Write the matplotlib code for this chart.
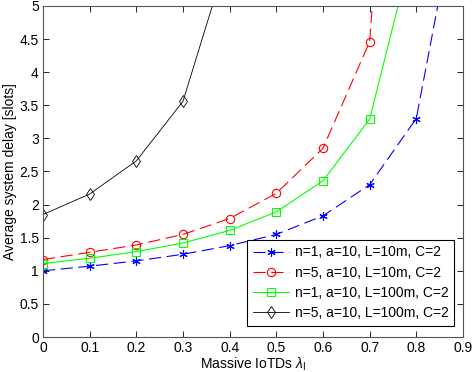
import matplotlib
matplotlib.use("Agg")
from matplotlib import pyplot as plt

plt.rcParams["font.family"] = ["Liberation Sans", "DejaVu Sans"]
plt.rcParams["font.size"] = 10
plt.rcParams["mathtext.fontset"] = "custom"
plt.rcParams["mathtext.rm"] = "Liberation Sans"
plt.rcParams["mathtext.it"] = "Liberation Sans:italic"

# data (last points lie above the y-limit and get clipped)
lam_a = [0, 0.1, 0.2, 0.3, 0.4, 0.5, 0.6, 0.7, 0.8, 0.9]
delay_n1_L10 = [1.0, 1.07, 1.15, 1.25, 1.38, 1.55, 1.83, 2.30, 3.30, 7.0]

lam_b = [0, 0.1, 0.2, 0.3, 0.4, 0.5, 0.6, 0.7, 0.8]
delay_n5_L10 = [1.17, 1.28, 1.39, 1.55, 1.79, 2.17, 2.85, 4.46, 14.0]
delay_n1_L100 = [1.11, 1.19, 1.29, 1.42, 1.61, 1.89, 2.36, 3.29, 6.1]

lam_c = [0, 0.1, 0.2, 0.3, 0.4]
delay_n5_L100 = [1.85, 2.16, 2.66, 3.56, 5.85]

labels = ["n=1, a=10, L=10m, C=2", "n=5, a=10, L=10m, C=2",
          "n=1, a=10, L=100m, C=2", "n=5, a=10, L=100m, C=2"]

fig = plt.figure(figsize=(4.74, 3.72), dpi=100)
ax = fig.add_axes([0.0907, 0.094, 0.886, 0.89])

ax.plot(lam_a, delay_n1_L10, color="#0000ff", linestyle=(0, (11, 5)), linewidth=0.8,
        marker=(6, 2, 0), markersize=6, markeredgewidth=0.8, label=labels[0])
ax.plot(lam_b, delay_n5_L10, color="#ff0000", linestyle=(0, (11, 5)), linewidth=0.8,
        marker="o", markersize=6, markerfacecolor="none", markeredgewidth=0.8, label=labels[1])
ax.plot(lam_b, delay_n1_L100, color="#00ff00", linestyle="-", linewidth=0.8,
        marker="s", markersize=6, markerfacecolor="none", markeredgewidth=0.8, label=labels[2])
ax.plot(lam_c, delay_n5_L100, color="#000000", linestyle="-", linewidth=0.6,
        marker="d", markersize=6.5, markerfacecolor="none", markeredgewidth=0.6, label=labels[3])

ax.set_xlim(0, 0.9)
ax.set_ylim(0, 5)
ax.set_xticks([0, 0.1, 0.2, 0.3, 0.4, 0.5, 0.6, 0.7, 0.8, 0.9])
ax.set_xticklabels(["0", "0.1", "0.2", "0.3", "0.4", "0.5", "0.6", "0.7", "0.8", "0.9"])
ax.set_yticks([0, 0.5, 1, 1.5, 2, 2.5, 3, 3.5, 4, 4.5, 5])
ax.set_yticklabels(["0", "0.5", "1", "1.5", "2", "2.5", "3", "3.5", "4", "4.5", "5"])
ax.tick_params(direction="in", top=True, right=True, length=4, width=0.6, pad=3)
for s in ax.spines.values():
    s.set_linewidth(0.8)
    s.set_color("#555555")

ax.set_xlabel(r"Massive IoTDs $\lambda_{\rm I}$", labelpad=0)
ax.set_ylabel("Average system delay [slots]", labelpad=2)

leg = ax.legend(loc="lower right", bbox_to_anchor=(0.979, 0.034), borderaxespad=0,
                fancybox=False, framealpha=1, edgecolor="#000000", handlelength=2.6,
                borderpad=0.4, labelspacing=0.45, handletextpad=0.4)
leg.get_frame().set_linewidth(0.8)

fig.savefig("out.png", dpi=100)
plt.close()
